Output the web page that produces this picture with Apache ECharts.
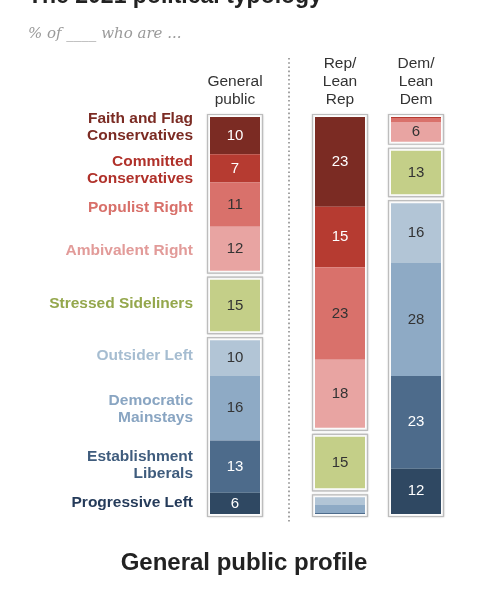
<!DOCTYPE html>
<html>
<head>
<meta charset="utf-8">
<script src="https://cdn.jsdelivr.net/npm/echarts@6/dist/echarts.min.js"></script>
<style>
html,body{margin:0;padding:0;background:#fff;}
#chart{width:488px;height:600px;}
</style>
</head>
<body>
<div id="chart"></div>
<script>
// ---- data ----
const typologies = ['Faith and Flag\nConservatives','Committed\nConservatives','Populist Right','Ambivalent Right','Stressed Sideliners','Outsider Left','Democratic\nMainstays','Establishment\nLiberals','Progressive Left'];
const columnLabels = ['General\npublic','Rep/\nLean\nRep','Dem/\nLean\nDem'];
const generalPublic = [10, 7, 11, 12, 15, 10, 16, 13, 6];
const repLeanRep    = [23, 15, 23, 18, 15, 3, 2, 1, 0];
const demLeanDem    = [0, 1, 1, 6, 13, 16, 28, 23, 12];
const groupOf       = [0, 0, 0, 0, 1, 2, 2, 2, 2];

// ---- styles ----
const fillColors  = ['#7b2b23','#b63b31','#d9716b','#e8a4a2','#c4cf88','#b2c5d6','#8eaac5','#4d6b8b','#2f4862'];
const labelColors = ['#7b2b23','#b0312a','#d8706a','#e29b99','#94a74c','#a6bdd1','#89a5c2','#3f5c7d','#253b5a'];
const valueColors = ['#fff','#fff','#333','#333','#333','#333','#333','#fff','#fff'];
const labelShift  = [-8, 2, 3, 2, -2, -2, 1, -1, -1];
const GAP = 1.5, PAD = 3;
const SANS = '"Liberation Sans", Arial, sans-serif';

function build(values){
  const gs = {}, ge = {};
  let c = 0;
  values.forEach((v,i)=>{ const g = groupOf[i]; if(gs[g]===undefined) gs[g]=c; c+=v; ge[g]=c; });
  const items = []; let cum = 0;
  values.forEach((v,i)=>{ const g = groupOf[i]; items.push([0, cum, cum+v, v, i, gs[g], ge[g]]); cum += v; });
  const boxes = [0,1,2].map(g=>[0, gs[g], ge[g]]);
  return {items, boxes};
}
const columns = [generalPublic, repLeanRep, demLeanDem].map(build);

function boxRange(api, s, e){
  let top = api.coord([0, s])[1], bot = api.coord([0, e])[1];
  if (s > 0) top += GAP;
  if (e < 100) bot -= GAP;
  return [top, bot];
}

function renderBox(params, api){
  const s = api.value(1), e = api.value(2);
  const cx = api.coord([0, 0])[0];
  const w = api.size([1, 0])[0];
  const [top, bot] = boxRange(api, s, e);
  if (bot - top < 2) return null;
  return {type:'rect', shape:{x: cx - w/2 + 0.5, y: top + 0.5, width: w - 1, height: bot - top - 1},
    style:{fill:'#fff', stroke:'#bdbdbd', lineWidth:1.2, shadowBlur:2, shadowColor:'rgba(0,0,0,0.15)'}};
}

function makeRenderSeg(withLabels){
  return function(params, api){
    const s = api.value(1), e = api.value(2), v = api.value(3), idx = api.value(4);
    const gs = api.value(5), ge = api.value(6);
    const cx = api.coord([0, 0])[0];
    const w = api.size([1, 0])[0];
    const [bt, bb] = boxRange(api, gs, ge);
    const y0 = Math.max(api.coord([0, s])[1], bt + PAD);
    const y1 = Math.min(api.coord([0, e])[1], bb - PAD);
    const children = [];
    if (y1 > y0) {
      children.push({type:'rect', shape:{x: cx - w/2 + PAD, y: y0, width: w - 2*PAD, height: y1 - y0},
        style:{fill: fillColors[idx]}});
      if (v >= 5) {
        children.push({type:'text', style:{text: String(v), x: cx, y: (y0+y1)/2, textAlign:'center', textVerticalAlign:'middle',
          fill: valueColors[idx], font:'15px ' + SANS}});
      }
      if (withLabels) {
        children.push({type:'text', style:{text: typologies[idx], x: cx - w/2 - 14, y: (y0+y1)/2 + labelShift[idx], textAlign:'right', textVerticalAlign:'middle',
          fill: labelColors[idx], font:'bold 15.5px ' + SANS, lineHeight:17}});
      }
    }
    return {type:'group', children};
  };
}

const gridDefs = [{left:207, width:56},{left:312, width:56},{left:388, width:56}];
const grid = gridDefs.map(g=>({left:g.left, width:g.width, top:114, bottom:83}));
const xAxis = columnLabels.map((lab,i)=>({gridIndex:i, type:'category', data:[lab], position:'top',
  axisLine:{show:false}, axisTick:{show:false},
  axisLabel:{margin:5, fontSize:15.5, lineHeight:18, color:'#333', fontFamily:SANS}}));
const yAxis = columnLabels.map((lab,i)=>({gridIndex:i, type:'value', min:0, max:100, inverse:true, show:false}));
const series = [];
columns.forEach((col,i)=>{
  series.push({type:'custom', xAxisIndex:i, yAxisIndex:i, renderItem: renderBox, data: col.boxes, z:1, silent:true});
  series.push({type:'custom', xAxisIndex:i, yAxisIndex:i, renderItem: makeRenderSeg(i===0), data: col.items, z:2, silent:true});
});

const chart = echarts.init(document.getElementById('chart'), null, {renderer:'canvas'});
chart.setOption({
  animation:false,
  grid, xAxis, yAxis, series,
  graphic:[
    {type:'text', left:28, top:-15, style:{text:'The 2021 political typology', font:'bold 23px ' + SANS, fill:'#222'}},
    {type:'text', left:28, top:27, style:{text:'% of ____ who are ...', font:'italic 15px "DejaVu Serif", Georgia, serif', fill:'#9a9a9a'}},
    {type:'line', shape:{x1:289, y1:58, x2:289, y2:522}, style:{stroke:'#999', lineWidth:1.8, lineDash:[1.6,2.6]}},
    {type:'text', left:'center', top:551, style:{text:'General public profile', font:'bold 24px ' + SANS, fill:'#222'}}
  ]
});
</script>
</body>
</html>
